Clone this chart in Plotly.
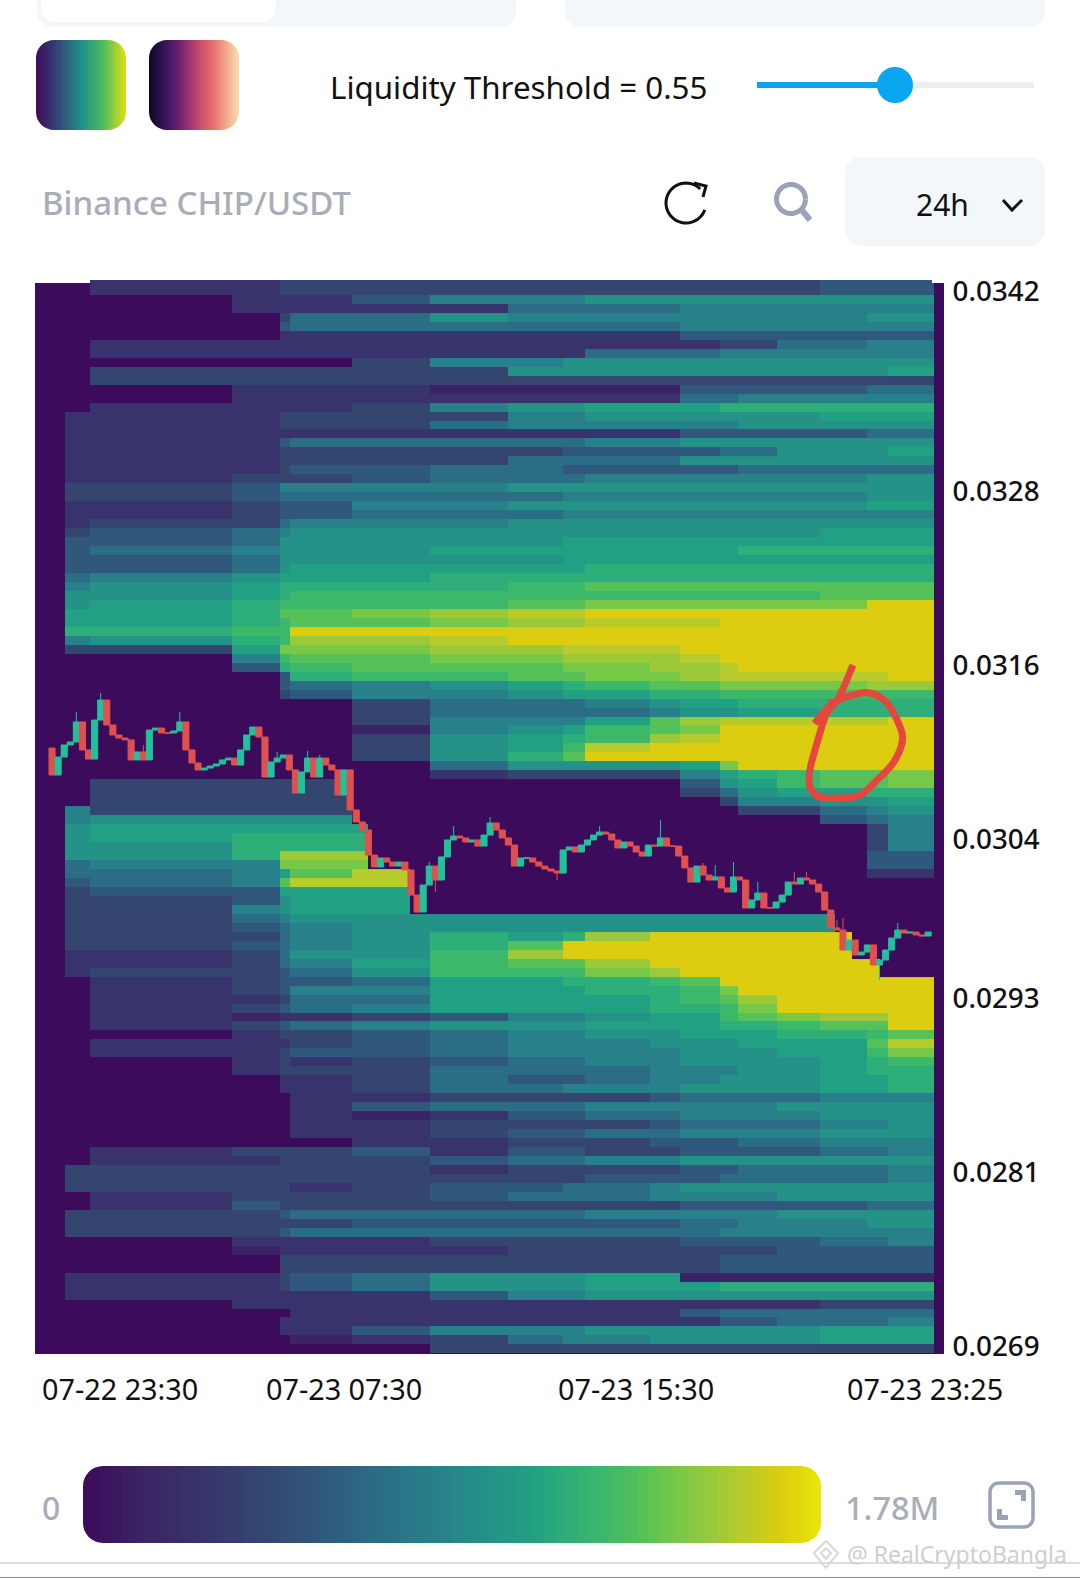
import numpy as np
import pandas as pd
import plotly.graph_objects as go

W, H = 1080, 1578

# ---------- data ----------
DAY1, DAY2 = "2024-07-22 ", "2024-07-23 "
COLUMN_EDGES = [DAY1 + "23:02", DAY1 + "23:51"] + [DAY2 + t for t in (
    "00:32", "04:26", "05:45", "06:01", "07:43", "08:10", "09:19", "09:51", "12:00", "13:30",
    "14:06", "15:53", "16:42", "17:48", "18:17", "19:22", "20:32", "20:57", "21:25", "21:50",
    "22:11", "22:24", "23:40", "23:56")]

# liquidity in millions for each level code used in LIQUIDITY_ROWS
LEVEL_VALUES = [0, .14, .28, .43, .57, .71, .85, .98, 1.09, 1.17, 1.26, 1.35, 1.44, 1.53, 1.60, 1.69]
LEVEL_COLORS = ["#3d0b5b", "#3b2465", "#38336c", "#34466f", "#30587c", "#2b6d85", "#28808a", "#259288",
                "#22a083", "#2eae78", "#3cb86a", "#55c158", "#78c848", "#9cc93a", "#b8cb2c", "#dccd10"]
Z_MAX = 1.78
Z_TOP_COLOR = "#e8e40a"

# one string per price row (top to bottom), one level code per time column
LIQUIDITY_ROWS = [
    "022333333333333444", "022333333333333444", "002224666777777777", "002222255556666666",
    "000355766666666677", "000455555556666666", "000222222224444444", "022222222222335566",
    "022222222555666666", "000003667777777777", "033333377777777778", "033333333333333333",
    "002222111114444455", "002222222225566666", "022223677888999999", "222333366777777888",
    "222333566666677777", "222222222224444455", "222455555667777777", "222333334444557778",
    "222333355557777777", "222344554444455555", "223334555666666677", "334666677777777777",
    "334555556666666677", "223446677777777788", "223445556666666666", "233566677777777777",
    "345677777777777888", "445777778888888888", "456777888888899999", "445777778888888888",
    "445788888999999999", "567888999999999999", "6789999aabbbbbbbbb", "7789aaaaaaaaaaabbb",
    "789aaaabbcccccccff", "889bbcdeefffffffff", "889abbcddeeeffffff", "99aaffffffffffffff",
    "679addefffffffffff", "338cccddeeefffffff", "006abbccdddeffffff", "0049abbbccddefffff",
    "00049aabbccdeeeeef", "000456789abbccccdd", "000346678899aaaaaa", "000003555678899999",
    "000003555567788999", "0000036668bdeeeeef", "000001678abcffffff", "000003789adeffffff",
    "00000378aeffffffff", "00000379bfffffffff", "000000577778cfffff", "00000023333689abbc",
    "03333000000478abbc", "033330000003578899", "033330000000366778", "633330000000033567",
    "677770000000000456", "788880000000000036", "789990000000000036", "779990000000000036",
    "779dd0000000000044", "566cc0000000000044", "5568b0000000000022", "456be0000000000000",
    "344880000000000000", "334780000000000000", "336780000000000000", "335677777777777700",
    "334567777777777700", "333567989dffffff00", "3345679bffffffff00", "223577adffffffff00",
    "223568abbdfffffff0", "233457aaacdffffff0", "0234458899abffffff", "02346688899acfffff",
    "02235588889abdffff", "023456888899acffff", "021223466788abcddf", "02345677788899abbf",
    "0023345667788899ab", "0222345666777888be", "0223445666677788ac", "00232345566777789a",
    "002333555566677899", "000223544566777889", "000223556667777889", "000022333345555666",
    "000024555666667777", "000021244556666777", "000022333345555667", "000022344556666777",
    "000002233344455666", "023334244334444556", "022333455667777777", "333333233334455556",
    "333333333444555556", "333323445567777777", "023333455566667777", "024333333334444455",
    "333455555666667777", "333334444445566677", "333455555555666666", "002222333334444556",
    "001222233333334444", "000333333333444444", "000333333333444444", "222345777881111111",
    "222345777888999999", "222222466777777777", "002222222222222333", "000022222224555555",
    "000222222222445556", "000224666777777888", "000012356677777888", "000000333333333333",
]
# finer time cells where liquidity stops at the price path
G_CELLS = {61: "800", 62: "900", 63: "900", 64: "d00", 65: "c00", 66: "ee0", 67: "ee0",
           68: "880", 69: "880", 70: "880"}
QR_CELLS = {71: "70000", 72: "70000", 73: "ff000", 74: "ff000", 75: "ff000", 76: "ffff0", 77: "ffff0"}

PRICE_TOP_ROW = 0.0342655
PRICE_ROW_STEP = 0.00006186
Y_RANGE = [0.0268690, 0.0342759]

CANDLE_START = DAY1 + "23:30"
FIRST_OPEN = 0.031048
CLOSES = [
    30862, 30986, 31069, 31090, 31228, 31035, 30972, 31241, 31379, 31207, 31138, 31117, 31104, 30966, 31021,
    30966, 31172, 31186, 31152, 31152, 31166, 31228, 31035, 30945, 30897, 30910, 30924, 30938, 30966, 30979,
    30931, 31035, 31138, 31193, 31124, 30848, 30952, 30979, 31000, 30897, 30738, 30883, 30979, 30848, 30979,
    30931, 30897, 30724, 30897, 30621, 30538, 30483, 30310, 30228, 30290, 30262, 30234, 30262, 30207, 30034,
    29917, 30103, 30234, 30138, 30297, 30414, 30441, 30428, 30400, 30414, 30372, 30448, 30531, 30483, 30428,
    30379, 30234, 30290, 30290, 30262, 30234, 30214, 30200, 30186, 30345, 30366, 30331, 30379, 30414, 30448,
    30469, 30455, 30414, 30359, 30400, 30372, 30331, 30303, 30379, 30372, 30428, 30372, 30372, 30303, 30221,
    30124, 30234, 30172, 30138, 30159, 30083, 30055, 30159, 30138, 29945, 30000, 30048, 29945, 29945, 29986,
    30034, 30124, 30110, 30152, 30138, 30110, 30055, 29931, 29807, 29793, 29655, 29724, 29621, 29641, 29690,
    29552, 29586, 29655, 29738, 29793, 29772, 29779, 29759, 29752, 29779,
]
HIGH_WICKS = {4: 31297, 8: 31428, 15: 31069, 21: 31297, 37: 31021, 42: 31028, 44: 31000, 62: 30262, 66: 30510,
              72: 30572, 90: 30510, 100: 30552, 107: 30255, 109: 30241, 112: 30262, 116: 30124, 122: 30193,
              124: 30193, 129: 29862, 130: 29876, 139: 29841}
LOW_WICKS = {63: 30055, 83: 30138, 136: 29448}

Y_TICKS = [0.0342, 0.03282, 0.03162, 0.03042, 0.02932, 0.02812, 0.02692]
X_TICKS = [DAY2 + "07:30", DAY2 + "15:30", DAY2 + "23:25"]
X_TICK_TEXT = ["07-23 07:30", "07-23 15:30", "07-23 23:25"]
FIRST_TICK_TEXT = "07-22 23:30"
TITLE = "Binance CHIP/USDT"
THRESHOLD_TEXT = "Liquidity Threshold = 0.55"
RANGE_TEXT = "24h"
SCALE_LOW, SCALE_HIGH = "0", "1.78M"
WATERMARK = "@ RealCryptoBangla"

MAGMA = ["#0e0724", "#2c1250", "#5d1a6e", "#94306f", "#c94f6c", "#e66f6d", "#f2a78a", "#f9dcae"]

# ---------- helpers ----------
def X(p): return p / W
def Y(p): return 1 - p / H

def pth(points, close=False):
    s = "M" + " L".join(f"{X(a):.5f},{Y(b):.5f}" for a, b in points)
    return s + (" Z" if close else "")

def rr_pts(x0, y0, x1, y1, r):
    out = []
    for cx, cy, a0 in ((x1 - r, y0 + r, -90), (x1 - r, y1 - r, 0), (x0 + r, y1 - r, 90), (x0 + r, y0 + r, 180)):
        for a in np.radians(np.linspace(a0, a0 + 90, 9)):
            out.append((cx + r * np.cos(a), cy + r * np.sin(a)))
    return out

def rounded(x0, y0, x1, y1, r, fill, line=None, lw=0):
    return dict(type="path", xref="paper", yref="paper", path=pth(rr_pts(x0, y0, x1, y1, r), True),
                fillcolor=fill, line=dict(color=line or "rgba(0,0,0,0)", width=lw), layer="above")

def corner_mask(x0, y0, x1, y1, r):
    outer = [(x0 - 2, y0 - 2), (x1 + 2, y0 - 2), (x1 + 2, y1 + 2), (x0 - 2, y1 + 2)]
    return dict(type="path", xref="paper", yref="paper", fillrule="evenodd",
                path=pth(outer, True) + " " + pth(rr_pts(x0, y0, x1, y1, r), True),
                fillcolor="white", line=dict(width=0), layer="above")

def stroke(points, color, width):
    return dict(type="path", xref="paper", yref="paper", path=pth(points), line=dict(color=color, width=width),
                fillcolor="rgba(0,0,0,0)", layer="above")

def arc(cx, cy, r, a0, a1, n=40):
    return [(cx + r * np.cos(a), cy + r * np.sin(a)) for a in np.radians(np.linspace(a0, a1, n))]

def smooth(points, n=10):
    p = np.array([points[0]] + points + [points[-1]], float)
    out = []
    for i in range(1, len(p) - 2):
        for t in np.linspace(0, 1, n, endpoint=False):
            out.append(0.5 * ((2 * p[i]) + (-p[i - 1] + p[i + 1]) * t +
                              (2 * p[i - 1] - 5 * p[i] + 4 * p[i + 1] - p[i + 2]) * t * t +
                              (-p[i - 1] + 3 * p[i] - 3 * p[i + 1] + p[i + 2]) * t ** 3))
    out.append(p[-1])
    return [tuple(q) for q in out]

def text(s, xp, yp, size, color, anchor="left", weight=400, font="Noto Sans"):
    return dict(text=s, x=X(xp), y=Y(yp), xref="paper", yref="paper", xanchor=anchor, yanchor="middle",
                showarrow=False, font=dict(family=font, size=size, color=color, weight=weight))

# ---------- build series ----------
def expand(r, s):
    g = G_CELLS.get(r, s[5] * 3)
    qr = QR_CELLS.get(r, s[15] * 3 + s[16] * 2)
    return "0" + s[:5] + g + s[6:15] + qr + s[17] + "0"

z = [[LEVEL_VALUES[int(c, 16)] * 1e6 for c in expand(r, s)] for r, s in enumerate(LIQUIDITY_ROWS)]
stops = [[v / Z_MAX, c] for v, c in zip(LEVEL_VALUES, LEVEL_COLORS)] + [[1, Z_TOP_COLOR]]

times = pd.date_range(CANDLE_START, periods=len(CLOSES), freq="10min")
close = np.array(CLOSES) / 1e6
open_ = np.concatenate([[FIRST_OPEN], close[:-1]])
high = np.maximum(open_, close)
low = np.minimum(open_, close)
for k, v in HIGH_WICKS.items():
    high[k] = v / 1e6
for k, v in LOW_WICKS.items():
    low[k] = v / 1e6

ramp = np.linspace(0, 1, 128)
fig = go.Figure()
fig.add_trace(go.Heatmap(x=COLUMN_EDGES, y0=PRICE_TOP_ROW, dy=-PRICE_ROW_STEP, z=z, colorscale=stops,
                         zmin=0, zmax=Z_MAX * 1e6, showscale=False, hoverinfo="skip"))
fig.add_trace(go.Candlestick(x=times, open=open_, high=high, low=low, close=close,
                             increasing=dict(line=dict(color="#21c29b", width=1), fillcolor="#21c29b"),
                             decreasing=dict(line=dict(color="#e0504f", width=1), fillcolor="#e0504f"),
                             whiskerwidth=0, showlegend=False, hoverinfo="skip"))
viridis_swatch = [[0, "#3f0b5c"], [.25, "#34487a"], [.5, "#1f8f88"], [.75, "#4dbd5e"], [1, "#e0e010"]]
fig.add_trace(go.Heatmap(z=[ramp], x=ramp, y=[0], colorscale=viridis_swatch, showscale=False, xaxis="x2", yaxis="y2", hoverinfo="skip"))
fig.add_trace(go.Heatmap(z=[ramp], x=ramp, y=[0], colorscale=[[i / (len(MAGMA) - 1), c] for i, c in enumerate(MAGMA)],
                         showscale=False, xaxis="x3", yaxis="y3", hoverinfo="skip"))
fig.add_trace(go.Heatmap(z=[ramp * Z_MAX * 1e6], x=ramp, y=[0], colorscale=stops, zmin=0, zmax=Z_MAX * 1e6,
                         showscale=False, xaxis="x4", yaxis="y4", hoverinfo="skip"))

# ---------- shapes ----------
INK, GREY, PANEL = "#111111", "#a9adb8", "#f4f7fa"
SW1 = (36, 40, 126, 130)
SW2 = (149, 40, 239, 130)
BAR = (83, 1466, 821, 1543)
shapes = [
    corner_mask(*SW1, 18), corner_mask(*SW2, 18), corner_mask(*BAR, 20),
    rounded(37, -30, 516, 27, 16, PANEL), rounded(41, -30, 276, 22, 14, "white"), rounded(565, -30, 1045, 27, 16, PANEL),
    rounded(845, 157, 1045, 246, 16, PANEL),
    dict(type="rect", xref="paper", yref="paper", x0=X(757), x1=X(894), y0=Y(82), y1=Y(88), fillcolor="#09a5ef", line=dict(width=0), layer="above"),
    dict(type="rect", xref="paper", yref="paper", x0=X(894), x1=X(1034), y0=Y(82), y1=Y(88), fillcolor="#eeeeee", line=dict(width=0), layer="above"),
    dict(type="circle", xref="paper", yref="paper", x0=X(877), x1=X(913), y0=Y(67), y1=Y(103), fillcolor="#09a5ef", line=dict(width=0), layer="above"),
    # reload icon
    stroke(arc(686, 203, 20, -45, -340), INK, 3),
    stroke([(694, 183), (706, 186), (703, 197)], INK, 3),
    # search icon
    stroke(arc(791, 199, 14.5, 0, 360), "#9aa3b5", 5),
    stroke([(801, 209), (810, 220)], "#9aa3b5", 6),
    # chevron
    stroke([(1003, 200), (1012, 210), (1022, 200)], INK, 3),
    # notches of the chart frame
    dict(type="rect", xref="paper", yref="paper", x0=X(33), x1=X(90), y0=Y(278), y1=Y(283), fillcolor="white", line=dict(width=0), layer="above"),
    dict(type="rect", xref="paper", yref="paper", x0=X(932), x1=X(946), y0=Y(278), y1=Y(283), fillcolor="white", line=dict(width=0), layer="above"),
    # hand-drawn mark
    stroke(smooth([(853, 665), (837, 700), (815, 723), (833, 703), (853, 695), (870, 693), (887, 703), (900, 727),
                   (902, 743), (893, 763), (877, 780), (860, 795), (840, 798), (820, 797), (810, 787), (810, 770),
                   (815, 750), (825, 717), (833, 700)]), "#e5473f", 7),
    # expand icon
    rounded(990, 1483, 1033, 1527, 9, "rgba(0,0,0,0)", "#9aa3b5", 3.5),
    dict(type="path", xref="paper", yref="paper", path=pth([(1015, 1490), (1026, 1490), (1026, 1501), (1021, 1501), (1021, 1495), (1015, 1495)], True),
         fillcolor="#9aa3b5", line=dict(width=0), layer="above"),
    dict(type="path", xref="paper", yref="paper", path=pth([(997, 1509), (1002, 1509), (1002, 1515), (1008, 1515), (1008, 1520), (997, 1520)], True),
         fillcolor="#9aa3b5", line=dict(width=0), layer="above"),
    # page footer
    dict(type="rect", xref="paper", yref="paper", x0=0, x1=1, y0=Y(1562), y1=Y(1564), fillcolor="#dcdcdc", line=dict(width=0), layer="above"),
    dict(type="rect", xref="paper", yref="paper", x0=0, x1=1, y0=Y(1577), y1=Y(1578), fillcolor="#8a8a8a", line=dict(width=0), layer="above"),
    # watermark logo
    stroke([(826, 1541), (838, 1553), (826, 1568), (814, 1553), (826, 1541)], "#d8d8d8", 2),
    stroke([(826, 1548), (831, 1553), (826, 1559), (821, 1553), (826, 1548)], "#d8d8d8", 2),
]

annotations = [
    text(THRESHOLD_TEXT, 328, 87, 31.3, INK),
    text(TITLE, 40, 203, 33, GREY, weight=500),
    text(RANGE_TEXT, 942, 204, 30, INK, "center"),
    text(SCALE_LOW, 51, 1507, 32, GREY, "center", 500),
    text(SCALE_HIGH, 892, 1507, 32.5, GREY, "center", 500),
    text(WATERMARK, 845, 1554, 23, "#cfcfcf"),
    dict(text=FIRST_TICK_TEXT, x=CANDLE_START, y=Y(1388), xref="x", yref="paper", xanchor="left", yanchor="middle",
         xshift=-12, showarrow=False, font=dict(family="Noto Sans", size=28.8, color=INK)),
]

hidden = dict(visible=False, fixedrange=True)
fig.update_layout(
    width=W, height=H, margin=dict(l=0, r=0, t=0, b=0, autoexpand=False), paper_bgcolor="white", plot_bgcolor="#3d0b5b",
    showlegend=False, boxgap=0, boxgroupgap=0, shapes=shapes, annotations=annotations,
    xaxis=dict(domain=[X(35), X(944)], range=[COLUMN_EDGES[0], COLUMN_EDGES[-1]], type="date", rangeslider=dict(visible=False),
               tickvals=X_TICKS, ticktext=X_TICK_TEXT, ticks="outside", ticklen=10, tickcolor="rgba(0,0,0,0)",
               tickfont=dict(family="Noto Sans", size=28.8, color=INK), showgrid=False, zeroline=False, showline=False),
    yaxis=dict(domain=[Y(1354), Y(280)], range=Y_RANGE, side="right", tickvals=Y_TICKS, ticktext=[f"{v:.4f}" for v in Y_TICKS],
               ticks="outside", ticklen=2, tickcolor="rgba(0,0,0,0)",
               tickfont=dict(family="Noto Sans", size=27.8, color=INK, weight=500), showgrid=False, zeroline=False, showline=False),
    xaxis2=dict(domain=[X(SW1[0]), X(SW1[2])], anchor="y2", **hidden), yaxis2=dict(domain=[Y(SW1[3]), Y(SW1[1])], anchor="x2", **hidden),
    xaxis3=dict(domain=[X(SW2[0]), X(SW2[2])], anchor="y3", **hidden), yaxis3=dict(domain=[Y(SW2[3]), Y(SW2[1])], anchor="x3", **hidden),
    xaxis4=dict(domain=[X(BAR[0]), X(BAR[2])], anchor="y4", **hidden), yaxis4=dict(domain=[Y(BAR[3]), Y(BAR[1])], anchor="x4", **hidden),
)

fig.write_html("out.html", config=dict(displayModeBar=False, staticPlot=True),
               post_script="document.body.style.margin='0';document.body.style.overflow='hidden';")
